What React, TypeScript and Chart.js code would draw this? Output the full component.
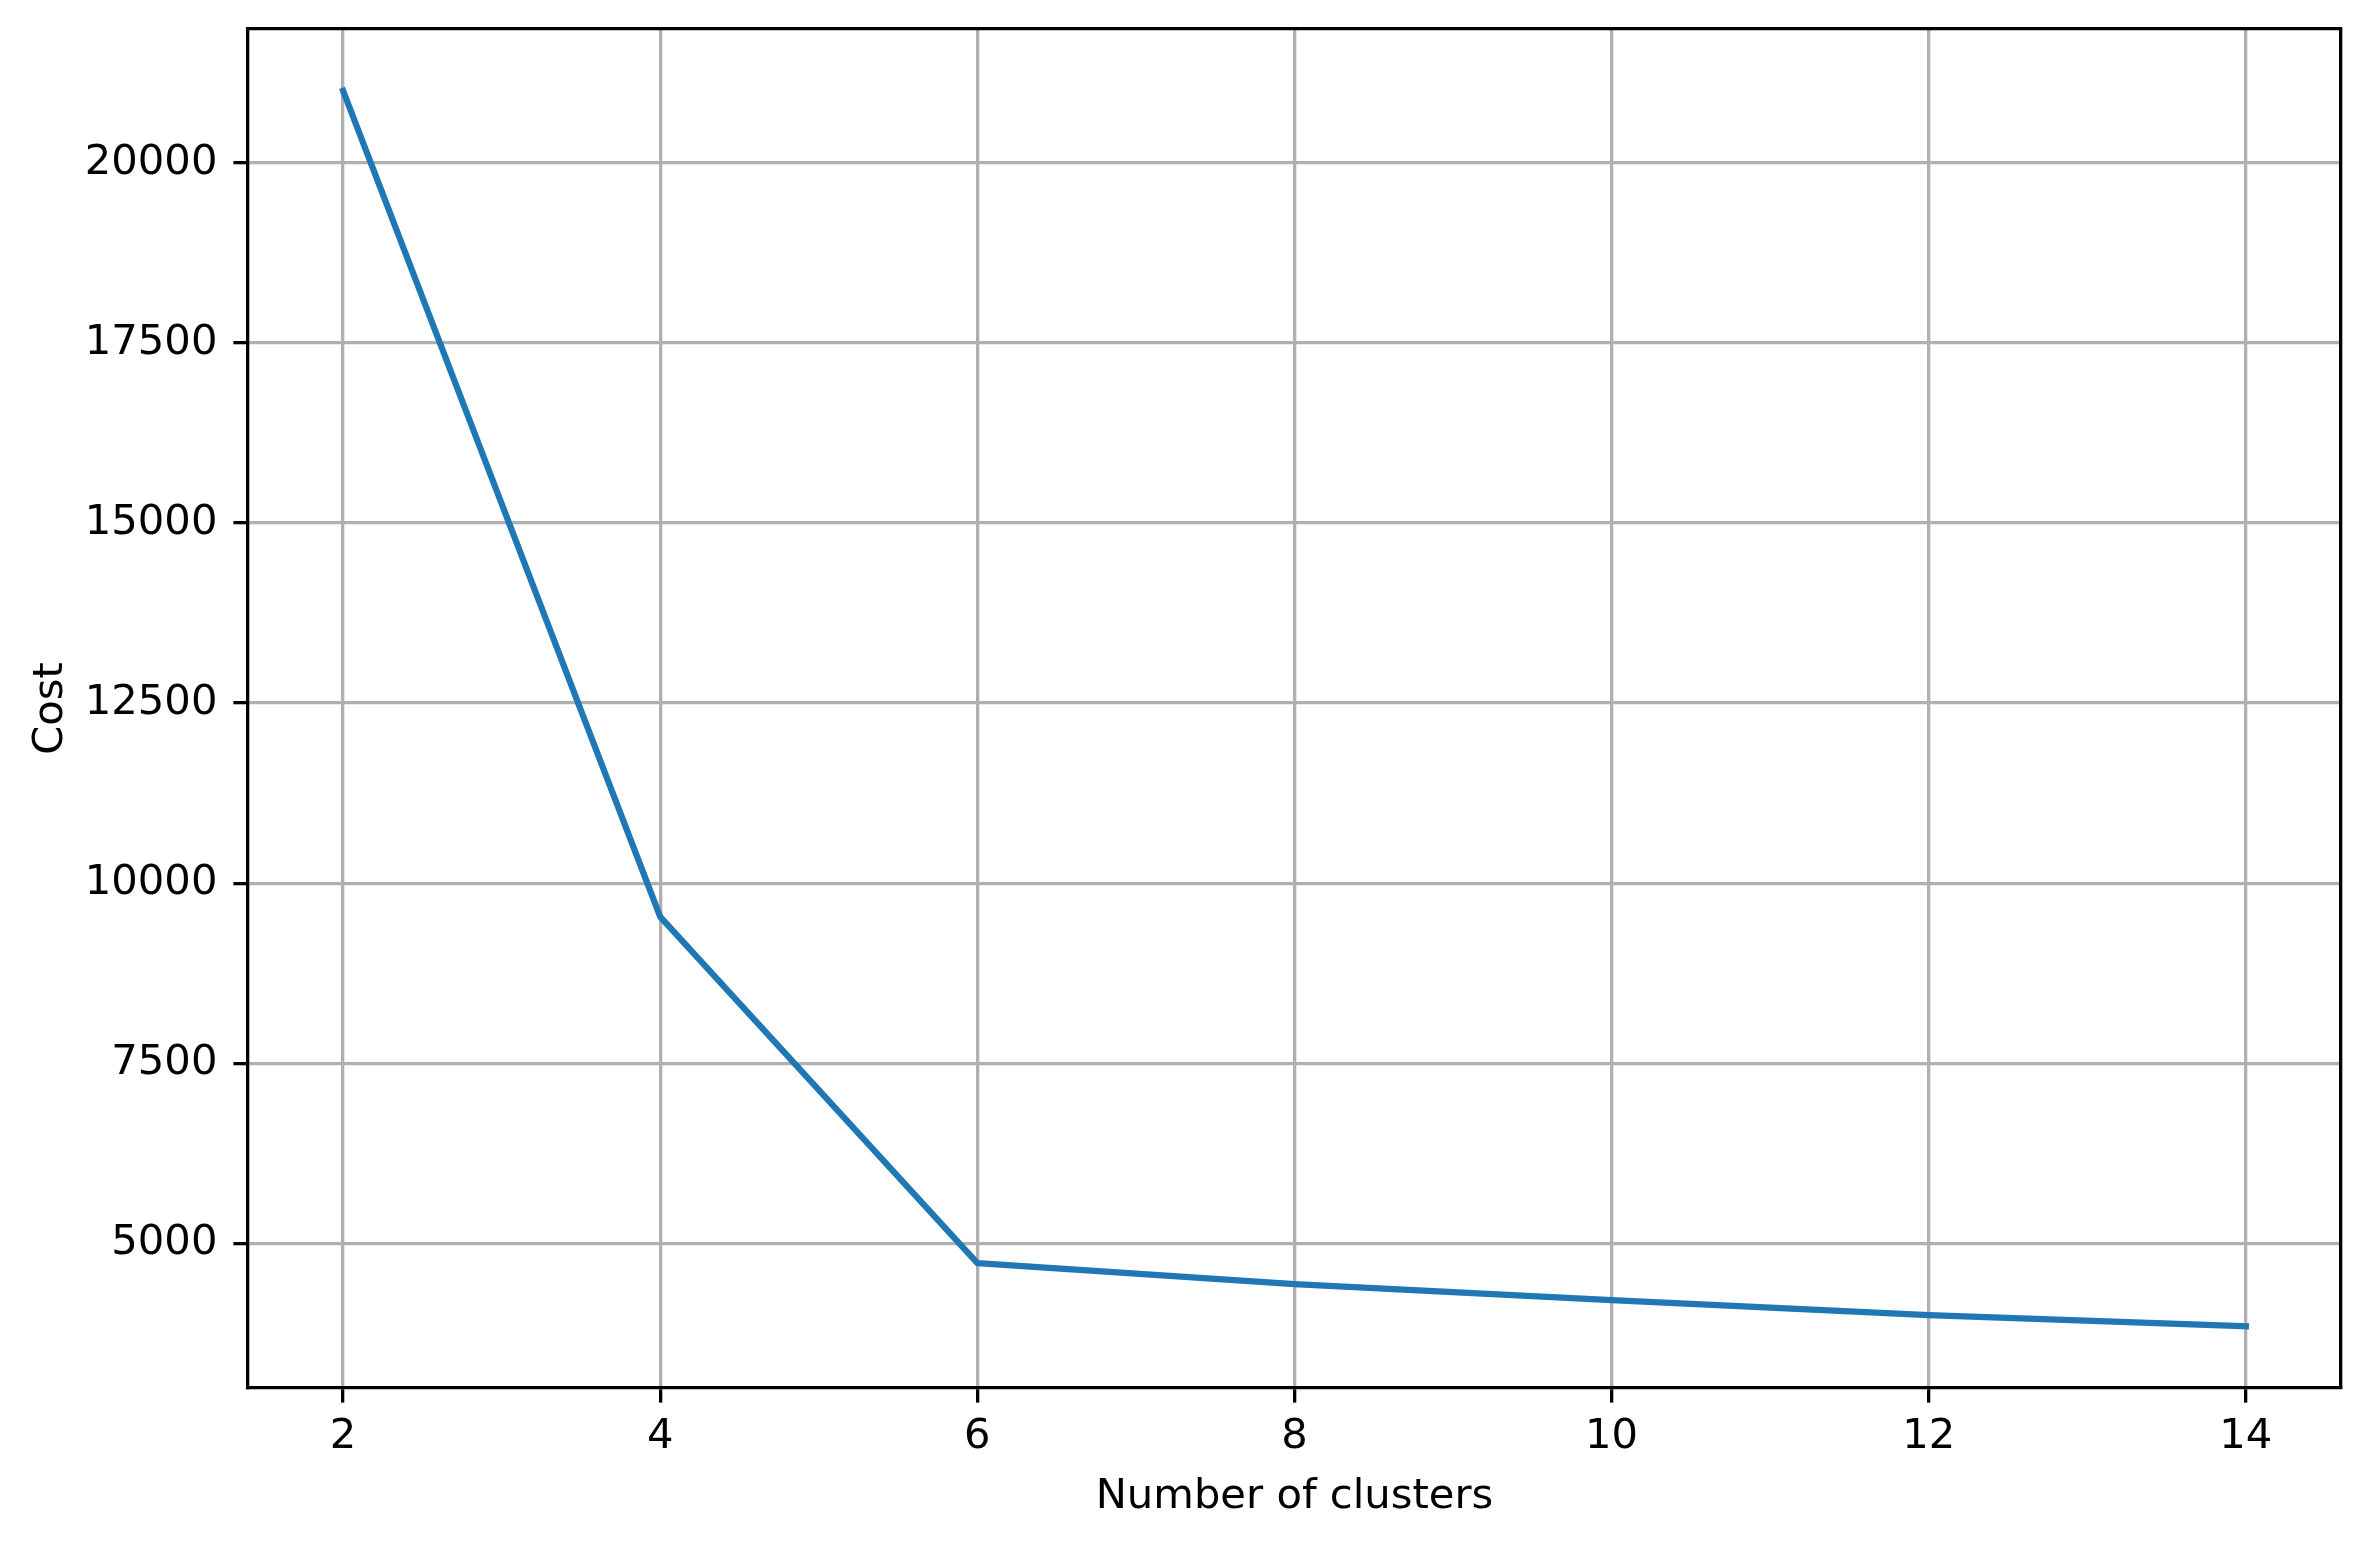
import React, { useEffect, useRef } from 'react';
import { Chart, registerables } from 'chart.js';

// Register all Chart.js components
Chart.register(...registerables);

// Elbow curve data
const clusters = [2, 4, 6, 8, 10, 12, 14];
const cost = [21000, 9532, 4726, 4435, 4213, 4004, 3851];

// Tick labels
const xTicks = [2, 4, 6, 8, 10, 12, 14];
const yTicks = [5000, 7500, 10000, 12500, 15000, 17500, 20000];

const WIDTH = 2370;
const HEIGHT = 1544;
const FONT = "'DejaVu Sans', sans-serif";
const FONT_SIZE = 41.7;

// matplotlib style 5% margins around the data
const pad = (arr: number[]) => {
  const lo = Math.min(...arr);
  const hi = Math.max(...arr);
  const m = (hi - lo) * 0.05;
  return { min: lo - m, max: hi + m };
};

const App: React.FC = () => {
  const chartRef = useRef<HTMLCanvasElement | null>(null);
  const chartInstance = useRef<Chart | null>(null);

  useEffect(() => {
    if (!chartRef.current) return;
    const ctx = chartRef.current.getContext('2d');
    if (!ctx) return;

    if (chartInstance.current) {
      chartInstance.current.destroy();
    }

    const xr = pad(clusters);
    const yr = pad(cost);

    const gridOpts = {
      color: '#b0b0b0',
      lineWidth: 3.3,
      tickColor: '#000',
      tickLength: 14.6,
      tickWidth: 3.3,
    };
    const borderOpts = { display: true, color: '#000', width: 3.3 };
    const tickFont = { family: FONT, size: FONT_SIZE };

    chartInstance.current = new Chart(ctx, {
      type: 'line',
      data: {
        datasets: [
          {
            label: 'Cost',
            data: clusters.map((c, i) => ({ x: c, y: cost[i] })),
            borderColor: '#1f77b4',
            borderWidth: 6.25,
            borderCapStyle: 'square',
            borderJoinStyle: 'round',
            pointRadius: 0,
            tension: 0,
            fill: false,
          },
        ],
      },
      options: {
        responsive: true,
        maintainAspectRatio: false,
        animation: false,
        layout: {
          padding: { left: 0, right: 29, top: 29, bottom: 0 },
        },
        plugins: {
          legend: { display: false },
          tooltip: { enabled: false },
        },
        scales: {
          x: {
            type: 'linear',
            position: 'bottom',
            min: xr.min,
            max: xr.max,
            afterBuildTicks: (axis: any) => {
              axis.ticks = xTicks.map(v => ({ value: v }));
            },
            afterFit: (axis: any) => {
              axis.height = 156;
              axis.paddingLeft = 0;
              axis.paddingRight = 0;
            },
            grid: gridOpts,
            border: borderOpts,
            ticks: {
              color: '#000',
              font: tickFont,
              padding: 10,
              maxRotation: 0,
            },
            title: {
              display: true,
              text: 'Number of clusters',
              color: '#000',
              font: tickFont,
              padding: { top: 0, bottom: 22 },
            },
          },
          y: {
            type: 'linear',
            position: 'left',
            min: yr.min,
            max: yr.max,
            afterBuildTicks: (axis: any) => {
              axis.ticks = yTicks.map(v => ({ value: v }));
            },
            afterFit: (axis: any) => {
              axis.width = 248;
              axis.paddingTop = 0;
              axis.paddingBottom = 0;
            },
            grid: gridOpts,
            border: borderOpts,
            ticks: {
              color: '#000',
              font: tickFont,
              padding: 16,
              callback: (value: any) => String(value),
            },
            title: {
              display: true,
              text: 'Cost',
              color: '#000',
              font: tickFont,
              padding: { top: 26, bottom: 0 },
            },
          },
          // top and right spines
          x2: {
            type: 'linear',
            position: 'top',
            grid: { display: false, drawTicks: false },
            ticks: { display: false },
            border: borderOpts,
            afterFit: (axis: any) => {
              axis.height = 0;
              axis.paddingLeft = 0;
              axis.paddingRight = 0;
            },
          },
          y2: {
            type: 'linear',
            position: 'right',
            grid: { display: false, drawTicks: false },
            ticks: { display: false },
            border: borderOpts,
            afterFit: (axis: any) => {
              axis.width = 0;
              axis.paddingTop = 0;
              axis.paddingBottom = 0;
            },
          },
        },
      },
    });

    // Cleanup
    return () => {
      if (chartInstance.current) {
        chartInstance.current.destroy();
        chartInstance.current = null;
      }
    };
  }, []);

  return (
    <div
      style={{
        position: 'absolute',
        left: 0,
        top: 0,
        width: `${WIDTH}px`,
        height: `${HEIGHT}px`,
        backgroundColor: '#fff',
      }}
    >
      <canvas ref={chartRef} />
    </div>
  );
};

export default App;
